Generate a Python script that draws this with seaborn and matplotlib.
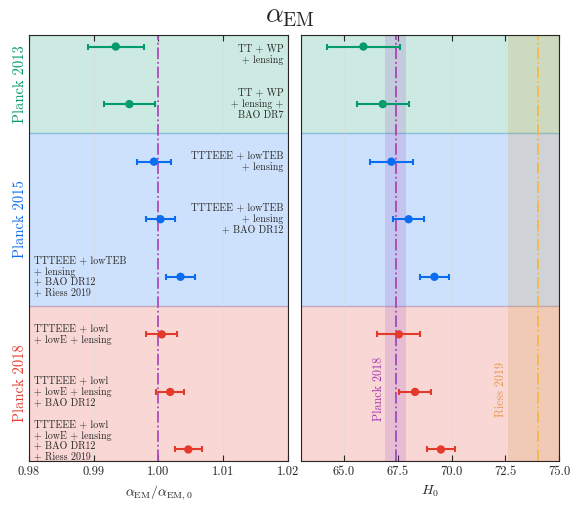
import numpy as np
import pandas as pd
import matplotlib
import matplotlib.pyplot as plt
import seaborn as sns

matplotlib.use('Agg')

# data
labels = [
    'TT + WP\n+ lensing',
    'TT + WP\n+ lensing +\nBAO DR7',
    'TTTEEE + lowTEB\n+ lensing',
    'TTTEEE + lowTEB\n+ lensing\n+ BAO DR12',
    'TTTEEE + lowTEB\n+ lensing\n+ BAO DR12\n+ Riess 2019',
    'TTTEEE + lowl\n+ lowE + lensing',
    'TTTEEE + lowl\n+ lowE + lensing\n+ BAO DR12',
    'TTTEEE + lowl\n+ lowE + lensing\n+ BAO DR12\n+ Riess 2019',
]
release = ['Planck 2013'] * 2 + ['Planck 2015'] * 3 + ['Planck 2018'] * 3
alpha_mean = [0.9934, 0.9955, 0.9993, 1.0003, 1.0034, 1.0005, 1.0018, 1.0046]
alpha_err = [0.0043, 0.0039, 0.0026, 0.0023, 0.0023, 0.0024, 0.0022, 0.0021]
h0_mean = [65.9, 66.8, 67.2, 68.0, 69.2, 67.55, 68.3, 69.5]
h0_err = [1.7, 1.2, 1.0, 0.73, 0.67, 1.0, 0.73, 0.65]

planck18_h0, planck18_err = 67.4, 0.5
riess19_h0, riess19_err = 74.03, 1.42

colors = {'Planck 2013': '#039a6c', 'Planck 2015': '#0a6cf0', 'Planck 2018': '#e43a2c'}
spans = {'Planck 2013': (-0.2, 1.5), 'Planck 2015': (1.5, 4.5), 'Planck 2018': (4.5, 7.2)}

df = pd.DataFrame({'row': np.arange(len(labels)), 'release': release,
                   'alpha': alpha_mean, 'alpha_err': alpha_err,
                   'H0': h0_mean, 'H0_err': h0_err})

sns.set_style('ticks')
plt.rcParams['font.family'] = 'serif'
plt.rcParams['font.serif'] = ['cmr10']
plt.rcParams['mathtext.fontset'] = 'cm'
plt.rcParams['axes.formatter.use_mathtext'] = True
plt.rcParams['axes.unicode_minus'] = False

fig = plt.figure(figsize=(5.81, 5.09), dpi=100)
ax1 = fig.add_axes([0.0499, 0.0943, 0.4458, 0.8369])
ax2 = fig.add_axes([0.518, 0.0943, 0.4446, 0.8369])

for ax, col, ecol in [(ax1, 'alpha', 'alpha_err'), (ax2, 'H0', 'H0_err')]:
    for rel, (y0, y1) in spans.items():
        ax.axhspan(y0, y1, facecolor=colors[rel], edgecolor=colors[rel], alpha=0.2, lw=1, zorder=0)
    for rel, sub in df.groupby('release'):
        ax.errorbar(sub[col], sub['row'], xerr=sub[ecol], fmt='none', ecolor=colors[rel],
                    elinewidth=1.5, capsize=2, capthick=1.5, zorder=3)
    sns.scatterplot(data=df, x=col, y='row', hue='release', palette=colors, s=36,
                    edgecolor='none', legend=False, ax=ax, zorder=4)
    ax.set_ylim(7.2, -0.2)
    ax.set_yticks([])
    ax.set_ylabel('')
    ax.grid(axis='x', color='#d8d8d8', lw=0.6, alpha=0.5)
    ax.tick_params(axis='x', direction='in', top=True, labelsize=9, length=4)
    for s in ax.spines.values():
        s.set_visible(True)

# left panel
ax1.set_xlim(0.98, 1.02)
ax1.set_xticks([0.98, 0.99, 1.00, 1.01, 1.02])
ax1.set_xticklabels(['%.2f' % t for t in ax1.get_xticks()])
ax1.axvline(1.0, color='#ad4cbd', ls='-.', lw=1.3, zorder=2)
ax1.set_xlabel(r'$\alpha_{\rm EM}/\alpha_{\rm EM,0}$', fontsize=10)

text_y = [0.14, 1, 2, 3, 4, 5, 6, 6.85]
for i, lab in enumerate(labels):
    if i < 4:
        ax1.text(1.0193, text_y[i], lab, ha='right', va='center', fontsize=7.2,
                 color='#2a2a2a', multialignment='right', linespacing=1.15)
    else:
        ax1.text(0.9808, text_y[i], lab, ha='left', va='center', fontsize=7.2,
                 color='#2a2a2a', multialignment='left', linespacing=1.15)

for rel, (y0, y1) in spans.items():
    ax1.text(-0.035, (y0 + y1) / 2, rel, transform=ax1.get_yaxis_transform(),
             rotation=90, ha='center', va='center', fontsize=10.5, color=colors[rel])

# right panel
ax2.set_xlim(63, 75)
ax2.set_xticks([65, 67.5, 70, 72.5, 75])
ax2.set_xticklabels(['%.1f' % t for t in ax2.get_xticks()])
ax2.axvspan(planck18_h0 - planck18_err, planck18_h0 + planck18_err, color='#9a55c8', alpha=0.2, lw=0, zorder=1)
ax2.axvline(planck18_h0, color='#a548b5', ls='-.', lw=1.3, zorder=2)
ax2.axvspan(riess19_h0 - riess19_err, riess19_h0 + riess19_err, color='#d49a40', alpha=0.2, lw=0, zorder=1)
ax2.axvline(riess19_h0, color='#f5b84a', ls='-.', lw=1.3, zorder=2)
ax2.text(66.6, 5.95, 'Planck 2018', rotation=90, ha='center', va='center', fontsize=8.7, color='#a535b5')
ax2.text(72.3, 5.95, 'Riess 2019', rotation=90, ha='center', va='center', fontsize=8.7, color='#e89a50')
ax2.set_xlabel(r'$H_0$', fontsize=10)

fig.suptitle(r'$\alpha_{\rm EM}$', y=0.995, fontsize=20)

plt.savefig('out.png', dpi=100)
